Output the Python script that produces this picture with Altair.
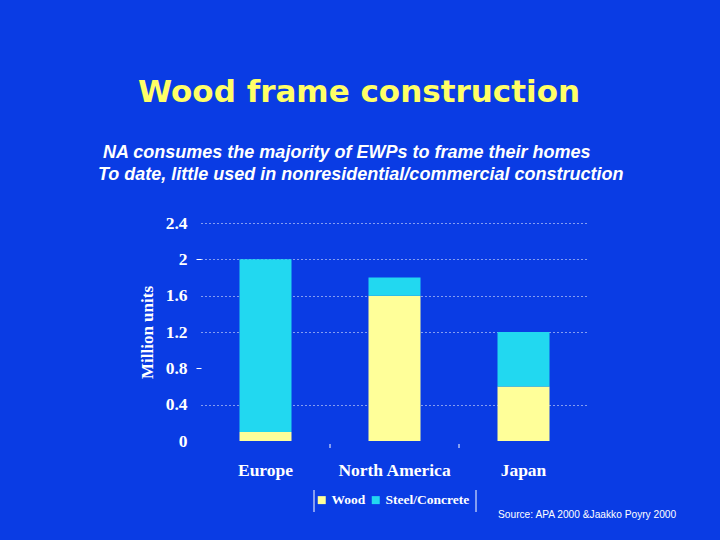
import altair as alt
import pandas as pd

regions = ["Europe", "North America", "Japan"]
wood = [0.1, 1.6, 0.6]
steel = [1.9, 0.2, 0.6]
series = ["Wood", "Steel/Concrete"]
y_ticks = [0, 0.4, 0.8, 1.2, 1.6, 2, 2.4]

title_txt = "Wood frame construction"
sub1 = "NA consumes the majority of EWPs to frame their homes"
sub2 = "To date, little used in nonresidential/commercial construction"
source_txt = "Source: APA 2000 &Jaakko Poyry 2000"

rows = []
for r, w, s in zip(regions, wood, steel):
    rows.append({"region": r, "series": "Wood", "value": w, "ord": 0})
    rows.append({"region": r, "series": "Steel/Concrete", "value": s, "ord": 1})
df = pd.DataFrame(rows)
one = pd.DataFrame({"a": [0]})

BG = "#0a3ce4"
SERIF = "Liberation Serif"
SANS = "Liberation Sans"

bars = alt.Chart(df).mark_bar(size=52).encode(
    x=alt.X("region:N", sort=regions, scale=alt.Scale(paddingInner=0.1, paddingOuter=0.05),
            axis=alt.Axis(title=None, labelAngle=0, domain=False, ticks=False,
                          labelFont=SERIF, labelFontWeight="bold", labelFontSize=17.5,
                          labelColor="white", labelPadding=20)),
    y=alt.Y("value:Q", stack="zero", scale=alt.Scale(domain=[0, 2.4], nice=False),
            axis=alt.Axis(values=y_ticks, format="~g", title="Million units",
                          titleFont=SERIF, titleFontWeight="bold", titleFontSize=17,
                          titleColor="white", titlePadding=9,
                          labelFont=SERIF, labelFontWeight="bold", labelFontSize=17.5,
                          labelColor="white", labelPadding=9, domain=False,
                          tickSize=5, tickColor="white",
                          tickOpacity={"condition": {"test": "datum.value == 2 || datum.value == 0.8", "value": 1}, "value": 0},
                          grid=True, gridColor="white", gridDash=[1, 3], gridWidth=1,
                          gridOpacity={"condition": {"test": "datum.value == 0 || datum.value == 0.8", "value": 0}, "value": 1})),
    color=alt.Color("series:N", scale=alt.Scale(domain=series, range=["#ffff99", "#22d8f0"]),
                    legend=alt.Legend(title=None, orient="none", legendX=114, legendY=270,
                                      direction="horizontal", symbolType="square", symbolSize=64,
                                      symbolStrokeWidth=0, labelFont=SERIF, labelFontWeight="bold",
                                      labelFontSize=13.5, labelColor="white", columnPadding=3,
                                      labelOffset=3)),
    order=alt.Order("ord:Q"),
)

xticks = alt.Chart(pd.DataFrame({"region": ["North America", "Japan"]})).mark_rule(
    color="white", strokeWidth=1, xOffset=-64.5).encode(
    x=alt.X("region:N", sort=regions),
    y=alt.value(221), y2=alt.value(225),
)

def text(t, x, y, size, font, color="white", weight="bold", style="normal", align="left"):
    return alt.Chart(one).mark_text(text=t, font=font, fontSize=size, fontWeight=weight,
                                    fontStyle=style, color=color, align=align,
                                    baseline="middle").encode(x=alt.value(x), y=alt.value(y))

t1 = text(title_txt, 158, -130, 31, "DejaVu Sans", color="#ffff66", align="center")
t2 = text(sub1, -98, -70, 18, SANS, style="italic")
t3 = text(sub2, -103, -48, 18, SANS, style="italic")
t4 = text(source_txt, 297, 292, 10.2, SANS, weight="normal")

lb1 = alt.Chart(one).mark_rule(color="white").encode(x=alt.value(113), y=alt.value(267), y2=alt.value(289))
lb2 = alt.Chart(one).mark_rule(color="white").encode(x=alt.value(275), y=alt.value(267), y2=alt.value(289))

chart = alt.layer(bars, xticks, t1, t2, t3, t4, lb1, lb2).properties(
    width=387, height=218,
    autosize=alt.AutoSizeParams(type="none"),
    padding={"left": 201, "top": 223, "right": 132, "bottom": 99},
    background=BG,
).configure_view(stroke=None)

chart.save("out.html", embed_options={"renderer": "svg", "actions": False})
